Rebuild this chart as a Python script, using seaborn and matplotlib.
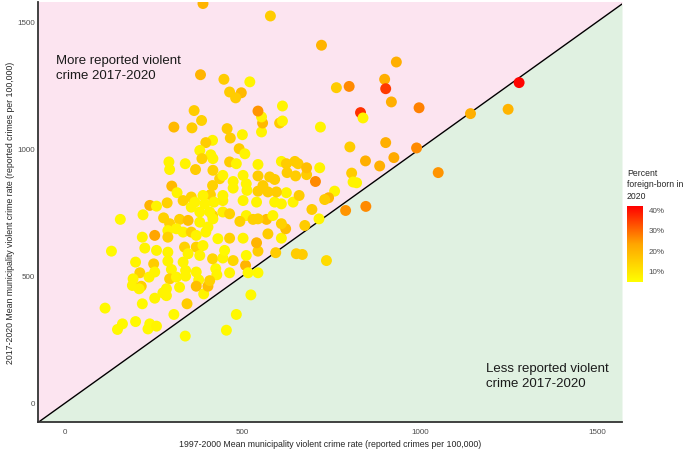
import numpy as np
import pandas as pd
import matplotlib
matplotlib.use("Agg")
import matplotlib.pyplot as plt
from matplotlib.colors import LinearSegmentedColormap, Normalize
from matplotlib.cm import ScalarMappable
import seaborn as sns

# Kommunernas medelvärden (anmälda våldsbrott per 100 000)
x_1997 = [388, 578, 722, 933, 900, 903, 800, 764, 919, 832, 839, 997, 1142, 1248, 1279,
          903, 990, 926, 886, 846, 1051, 802, 807, 811, 821, 705, 759, 742, 731, 695,
          790, 847, 715, 675, 593, 651, 668, 736, 508, 523, 482, 454, 338, 306, 343,
          285, 252, 275, 217, 112, 161, 147, 198, 238, 233, 257, 390, 543, 515, 424,
          427, 463, 415, 444, 473, 449, 510, 543, 539, 430, 463, 501, 571, 609, 621,
          609, 567, 543, 585, 510, 492, 529, 415, 444, 463, 444, 501, 590, 609, 642,
          539, 659, 623, 595, 571, 543, 557, 510, 512, 473, 415, 444, 435, 444, 473,
          501, 543, 576, 590, 625, 649, 680, 416, 463, 482, 543, 609, 623, 647, 656,
          680, 717, 416, 410, 490, 506, 465, 499, 456, 415, 396, 553, 719, 604, 612,
          556, 553, 543, 612, 463, 496, 480, 447, 520, 381, 363, 384, 306, 357, 379,
          385, 292, 294, 338, 367, 300, 315, 409, 388, 238, 257, 287, 332, 355, 365,
          393, 419, 355, 155, 219, 277, 294, 322, 346, 379, 407, 416, 379, 402, 252,
          217, 289, 313, 289, 332, 355, 369, 396, 130, 224, 257, 289, 336, 369, 388,
          346, 379, 198, 249, 289, 332, 210, 236, 252, 191, 189, 214, 208, 299, 294,
          313, 339, 339, 369, 376, 369, 402, 407, 322, 285]
y_2017 = [1571, 1522, 1407, 1341, 1273, 1236, 1245, 1240, 1184, 1142, 1121, 1161, 1138, 1155, 1260,
          1024, 1003, 965, 932, 952, 906, 1007, 904, 869, 866, 871, 833, 807, 800, 761,
          757, 773, 724, 698, 591, 587, 584, 560, 541, 425, 348, 286, 263, 348, 390,
          422, 412, 433, 390, 373, 311, 289, 320, 311, 291, 302, 429, 512, 512, 528,
          504, 512, 567, 570, 560, 600, 580, 597, 630, 646, 648, 648, 665, 648, 685,
          705, 722, 724, 737, 737, 714, 722, 737, 751, 744, 796, 796, 790, 783, 790,
          790, 816, 827, 830, 830, 833, 855, 862, 836, 845, 855, 816, 882, 895, 871,
          895, 893, 889, 879, 906, 893, 898, 915, 948, 941, 938, 950, 941, 950, 941,
          925, 925, 961, 976, 1000, 980, 1042, 1055, 1079, 1033, 1024, 1066, 1085, 1101, 1109,
          1101, 1125, 1148, 1168, 1223, 1220, 1200, 1273, 1263, 1291, 1150, 1111, 1085, 1082, 993,
          961, 948, 918, 941, 918, 853, 827, 819, 816, 777, 774, 787, 796, 810, 790,
          783, 790, 770, 722, 740, 728, 705, 722, 718, 751, 751, 724, 711, 692, 659,
          652, 678, 685, 652, 672, 672, 659, 672, 597, 609, 600, 593, 613, 613, 619,
          587, 580, 554, 547, 558, 554, 512, 495, 515, 488, 462, 459, 449, 525, 488,
          495, 499, 521, 515, 484, 459, 459, 481, 455, 449]
# Andel utrikes födda 2020 (%)
pct_foreign = [20, 15, 20, 21, 21, 35, 26, 15, 21, 36, 7, 27, 21, 20, 41,
               21, 26, 22, 21, 21, 25, 15, 15, 7, 7, 26, 7, 20, 15, 15,
               25, 26, 7, 15, 15, 15, 15, 12, 20, 6, 6, 6, 6, 6, 15,
               7, 7, 7, 6, 6, 6, 6, 6, 6, 6, 7, 7, 6, 6, 6,
               7, 7, 13, 7, 13, 6, 6, 15, 20, 6, 14, 7, 15, 7, 18,
               14, 18, 14, 7, 7, 14, 14, 14, 8, 14, 8, 7, 7, 7, 7,
               7, 15, 7, 15, 15, 15, 15, 7, 7, 7, 14, 7, 14, 7, 7,
               7, 15, 15, 15, 15, 15, 15, 14, 15, 7, 7, 7, 15, 15, 15,
               18, 7, 7, 7, 15, 7, 15, 7, 15, 7, 15, 7, 7, 15, 7,
               19, 7, 25, 7, 15, 19, 15, 15, 7, 20, 15, 14, 19, 15, 7,
               14, 7, 7, 7, 15, 19, 7, 14, 7, 20, 7, 14, 14, 14, 7,
               7, 7, 7, 6, 7, 14, 14, 14, 18, 7, 7, 7, 7, 7, 23,
               7, 7, 7, 14, 7, 14, 7, 7, 6, 7, 7, 7, 14, 14, 7,
               7, 7, 7, 15, 7, 7, 14, 7, 7, 7, 7, 14, 7, 7, 14,
               7, 7, 7, 7, 7, 18, 18, 14, 7, 7]

df = pd.DataFrame({"x": x_1997, "y": y_2017, "pct": pct_foreign})

sns.set_style("white")
plt.rcParams["font.family"] = ["Liberation Sans", "DejaVu Sans"]

cmap = LinearSegmentedColormap.from_list("gul_rod", ["#FFFF00", "#FFA500", "#FF0000"])
norm = Normalize(4.6, 41.5)

fig = plt.figure(figsize=(6.85, 4.52), dpi=100)
ax = fig.add_axes([38 / 685, 29 / 452, 584 / 685, 420.5 / 452])

xmin, xmax, ymin, ymax = -77, 1569, -75, 1579
xs = np.array([xmin, xmax])
ax.fill_between(xs, xs, ymax, color="#FCE4F0", lw=0, zorder=0)
ax.fill_between(xs, ymin, xs, color="#E0F1E1", lw=0, zorder=0)
ax.plot(xs, xs, color="black", lw=1, zorder=1)

sns.scatterplot(data=df, x="x", y="y", hue="pct", palette=cmap, hue_norm=norm,
                s=62, linewidth=0, legend=False, ax=ax, zorder=3)

ax.set_xlim(xmin, xmax)
ax.set_ylim(ymin, ymax)
ax.set_xticks([0, 500, 1000, 1500])
ax.set_yticks([0, 500, 1000, 1500])
ax.tick_params(length=0, labelsize=5.8, labelcolor="#4D4D4D")
ax.tick_params(axis="x", pad=4)
ax.tick_params(axis="y", pad=2)
for s in ["top", "right"]:
    ax.spines[s].set_visible(False)
for s in ["left", "bottom"]:
    ax.spines[s].set_color("#333333")
    ax.spines[s].set_linewidth(1.3)

ax.set_xlabel("1997-2000 Mean municipality violent crime rate (reported crimes per 100,000)",
              fontsize=6.3, labelpad=3)
ax.set_ylabel("2017-2020 Mean municipality violent crime rate (reported crimes per 100,000)",
              fontsize=6.3, labelpad=2)

ax.text(-25, 1320, "More reported violent\ncrime 2017-2020", fontsize=9.5,
        ha="left", va="center", color="#1a1a1a", linespacing=1.3)
ax.text(1185, 108, "Less reported violent\ncrime 2017-2020", fontsize=9.5,
        ha="left", va="center", color="#1a1a1a", linespacing=1.3)

# Färgskala
cax = fig.add_axes([627 / 685, 1 - 283 / 452, 16 / 685, 76 / 452])
cb = fig.colorbar(ScalarMappable(norm=norm, cmap=cmap), cax=cax)
cb.outline.set_visible(False)
cb.set_ticks([10, 20, 30, 40])
cb.set_ticklabels(["10%", "20%", "30%", "40%"])
cax.tick_params(color="white", direction="in", length=3, width=0.8,
                labelsize=5.8, labelcolor="#4D4D4D", pad=4)
fig.text(627 / 685, 1 - 169 / 452, "Percent\nforeign-born in\n2020", fontsize=6.2,
         ha="left", va="top", linespacing=1.35)

fig.savefig("out.png", dpi=100)
